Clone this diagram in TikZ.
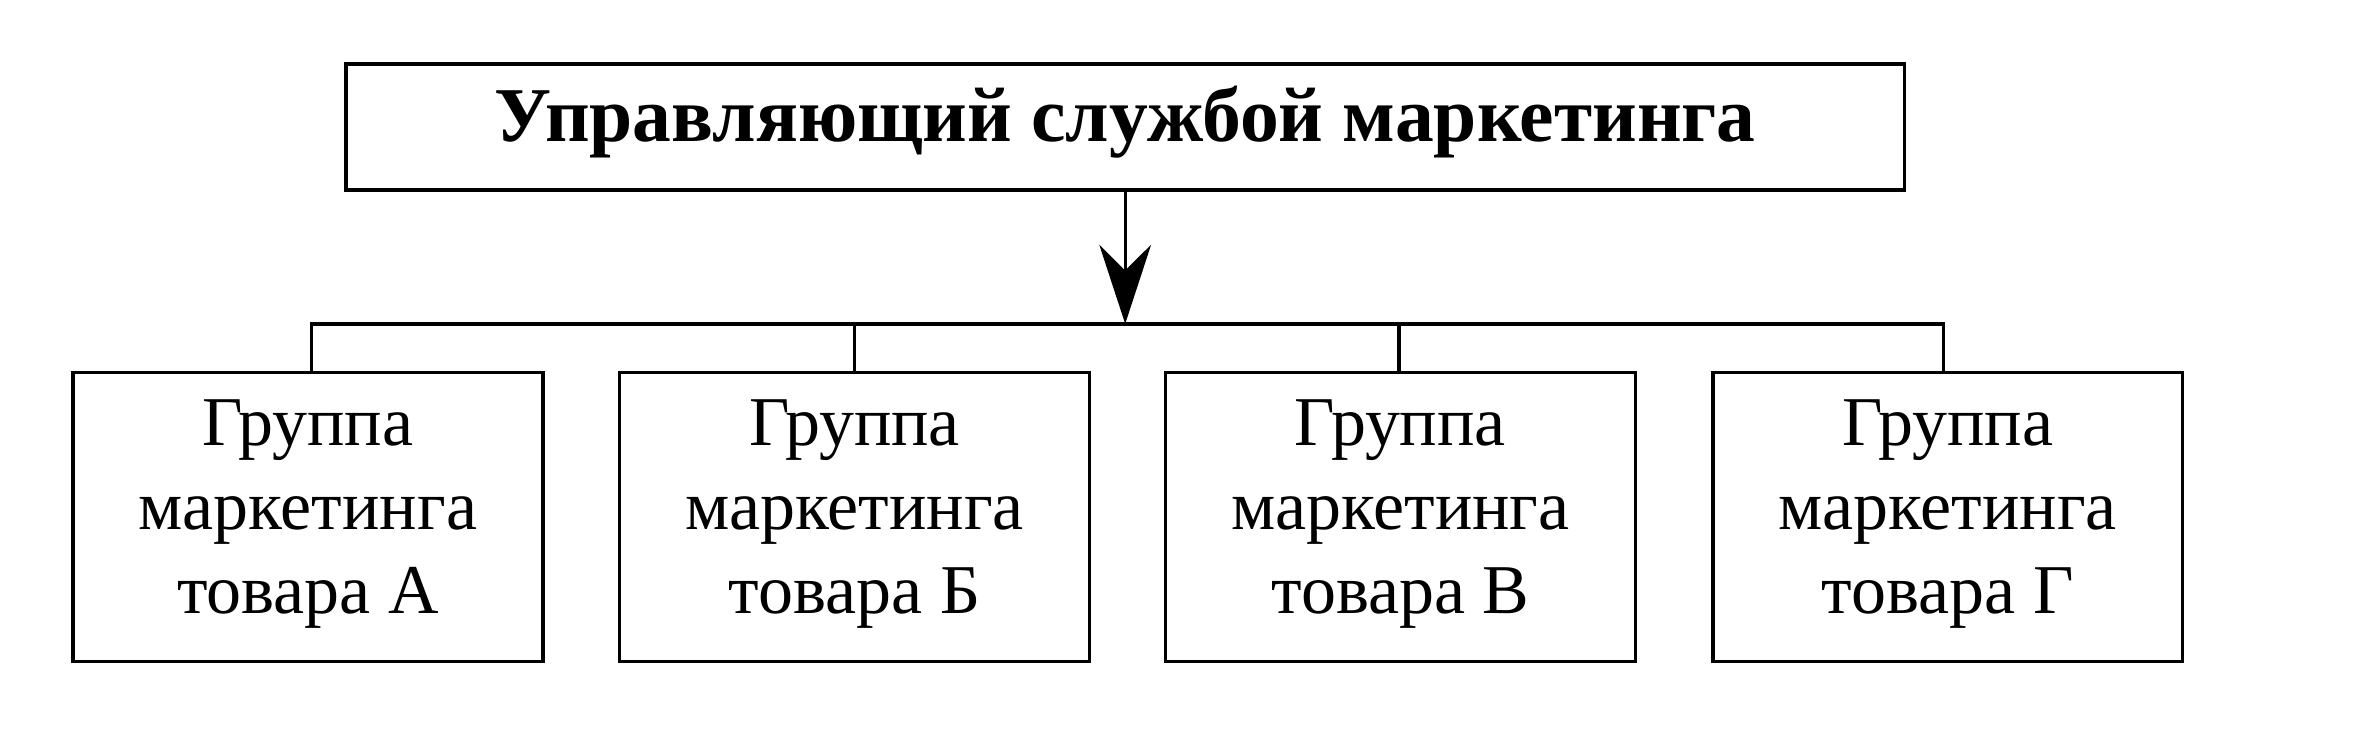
\documentclass[tikz,border=0pt]{standalone}
\usepackage{fontspec}
\setmainfont{Liberation Serif}
\usetikzlibrary{arrows.meta}
\begin{document}
\begin{tikzpicture}[x=1pt,y=-1pt,line width=2.2pt,
  box/.style={draw,inner sep=0pt},
  grp/.style={font=\fontsize{46}{55}\selectfont,align=center}]
\useasboundingbox (0,0) rectangle (1560,484);
\node[box,minimum width=1025pt,minimum height=83pt] (top) at (740,83.5) {};
\node[font=\bfseries\fontsize{51}{60}\selectfont] (toptxt) at (740,80) {Управляющий службой маркетинга};
\foreach \i/\x/\l in {1/202.5/А,2/562/Б,3/921/В,4/1281/Г}{
  \node[box,minimum width=309pt,minimum height=190pt] (g\i) at (\x,340) {};
  \node[grp] (t\i) at (\x,338) {Группа\\маркетинга\\товара \l};
}
\coordinate (j) at (740,213);
\draw[-{Stealth[length=52pt,width=34pt]}] (top.south) -- (j);
\draw (g1.north -| 205,0) -- (205,213) -- (1278,213) -- (g4.north -| 1278,0);
\draw (g2.north -| 562,0) -- (562,213);
\draw (g3.north -| 920,0) -- (920,213);
\end{tikzpicture}
\end{document}
